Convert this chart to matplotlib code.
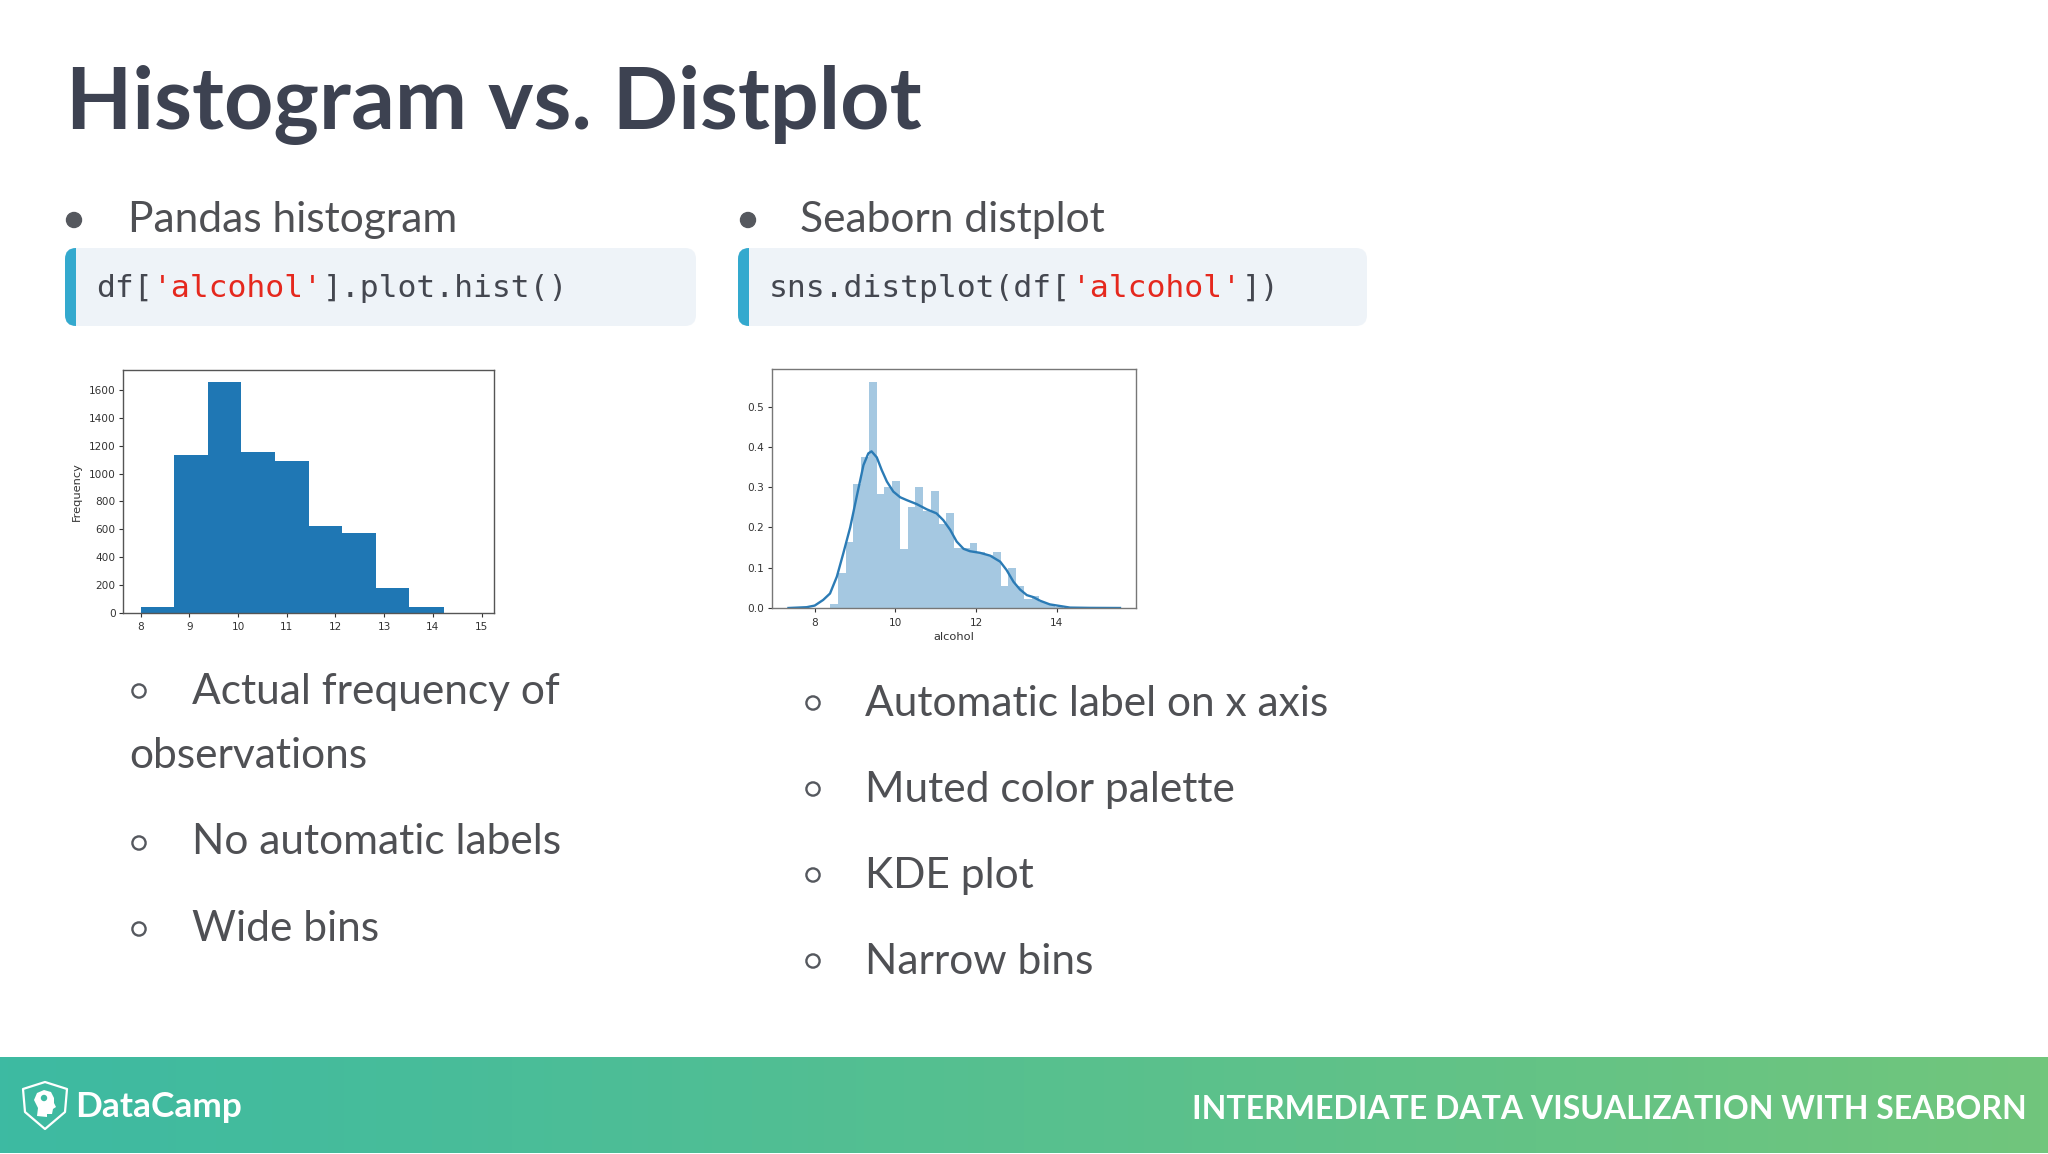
import numpy as np
import matplotlib
matplotlib.use("Agg")
import matplotlib.pyplot as plt
from matplotlib.patches import FancyBboxPatch, Rectangle, Circle, Polygon
from matplotlib.colors import LinearSegmentedColormap

W, H = 2048, 1154

# ---- data ----
hist_edges = [8.0, 8.684, 9.39, 10.07, 10.75, 11.455, 12.14, 12.84, 13.52, 14.22, 14.9]
hist_counts = [40, 1130, 1660, 1155, 1090, 625, 570, 178, 40, 1]
hist_yticks = [0, 200, 400, 600, 800, 1000, 1200, 1400, 1600]
hist_xticks = [8, 9, 10, 11, 12, 13, 14, 15]

dist_bin_start = 8.38
dist_bin_width = 0.1923
dist_density = [0.010, 0.086, 0.165, 0.307, 0.374, 0.562, 0.283, 0.301, 0.316, 0.146,
                0.252, 0.301, 0.241, 0.290, 0.209, 0.235, 0.148, 0.148, 0.161, 0.140,
                0.132, 0.139, 0.055, 0.099, 0.055, 0.022, 0.030, 0.016, 0.009, 0.003]
kde_x = [7.35, 7.8, 8.0, 8.21, 8.38, 8.55, 8.71, 8.88, 9.04, 9.21, 9.33, 9.41, 9.54, 9.66,
         9.79, 9.95, 10.12, 10.28, 10.53, 10.78, 11.02, 11.19, 11.36, 11.52, 11.69, 11.85,
         12.1, 12.35, 12.6, 12.76, 12.93, 13.09, 13.26, 13.42, 13.59, 13.83, 14.08, 14.33,
         14.83, 15.57]
kde_y = [0.0, 0.002, 0.006, 0.02, 0.036, 0.078, 0.136, 0.2, 0.276, 0.355, 0.384, 0.389, 0.374,
         0.343, 0.314, 0.289, 0.275, 0.268, 0.258, 0.245, 0.235, 0.218, 0.194, 0.165, 0.147,
         0.141, 0.137, 0.13, 0.115, 0.094, 0.065, 0.046, 0.032, 0.027, 0.018, 0.009, 0.005,
         0.001, 0.0003, 0.0]
dist_yticks = [0.0, 0.1, 0.2, 0.3, 0.4, 0.5]
dist_xticks = [8, 10, 12, 14]

title = "Histogram vs. Distplot"
left_head = "Pandas histogram"
right_head = "Seaborn distplot"
left_items = ["No automatic labels", "Wide bins"]
right_items = ["Automatic label on x axis", "Muted color palette", "KDE plot", "Narrow bins"]
footer_text = "INTERMEDIATE DATA VISUALIZATION WITH SEABORN"

TXT = "#4f5054"
DARK = "#3d4251"
BODY = 30.6

fig = plt.figure(figsize=(W / 100, H / 100), dpi=100, facecolor="white")
bg = fig.add_axes([0, 0, 1, 1])
bg.set_xlim(0, W); bg.set_ylim(H, 0); bg.axis("off")

def rect_axes(x0, y0, x1, y1):
    return fig.add_axes([x0 / W, 1 - y1 / H, (x1 - x0) / W, (y1 - y0) / H])

# title
bg.text(66, 129, title, family="Lato", weight="bold", fontsize=62, color=DARK, va="baseline")

# headings
for bx, tx, s in [(74, 128, left_head), (748, 800, right_head)]:
    bg.add_patch(Circle((bx, 220), 7.5, color="#55585e"))
    bg.text(tx, 232, s, family="Lato", fontsize=BODY, color=TXT, va="baseline")

# code blocks
def code_box(x0, x1):
    y0, y1 = 248, 326
    bg.add_patch(FancyBboxPatch((x0, y0), x1 - x0, y1 - y0,
                 boxstyle="round,pad=0,rounding_size=11", fc="#eef3f8", ec="none"))
    clip = Rectangle((x0, y0), 11, y1 - y0, transform=bg.transData)
    st = FancyBboxPatch((x0, y0), 40, y1 - y0, boxstyle="round,pad=0,rounding_size=11",
                        fc="#33a9ce", ec="none")
    bg.add_patch(st)
    st.set_clip_path(clip)

code_box(65, 696)
code_box(738, 1367)

def code(x, parts):
    pitch = 18.9
    for s, c in parts:
        bg.text(x, 297, s, family="DejaVu Sans Mono", fontsize=22.6, color=c, va="baseline")
        x += pitch * len(s)

code(96, [("df[", "#444750"), ("'alcohol'", "#e5281e"), ("].plot.hist()", "#444750")])
code(769, [("sns.distplot(df[", "#444750"), ("'alcohol'", "#e5281e"), ("])", "#444750")])

# sub bullets
def ring(x, y):
    bg.add_patch(Circle((x, y), 6.6, fc="white", ec="#55585e", lw=1.7))

ring(139, 691)
bg.text(192, 704, "Actual frequency of", family="Lato", fontsize=BODY, color=TXT, va="baseline")
bg.text(129, 768, "observations", family="Lato", fontsize=BODY, color=TXT, va="baseline")
for s, ry, by in zip(left_items, [843, 929], [854, 941]):
    ring(139, ry)
    bg.text(192, by, s, family="Lato", fontsize=BODY, color=TXT, va="baseline")
for s, ry, by in zip(right_items, [703, 789, 875, 961], [716, 802, 888, 974]):
    ring(813, ry)
    bg.text(865, by, s, family="Lato", fontsize=BODY, color=TXT, va="baseline")

# footer gradient
cmap = LinearSegmentedColormap.from_list("g", ["#3dbaa2", "#71c67c"])
grad = np.linspace(0, 1, 512).reshape(1, -1)
bg.imshow(grad, extent=(0, W, 1153, 1057), cmap=cmap, aspect="auto", zorder=1)
bg.set_xlim(0, W); bg.set_ylim(H, 0)
bg.text(75, 1117, "DataCamp", family="Lato", weight="bold", fontsize=25.4, color="white",
        va="baseline", zorder=3)
bg.text(2027, 1119, footer_text, family="Lato", weight="bold", fontsize=23, color="white",
        ha="right", va="baseline", zorder=3)

# logo
shield = [(45, 1082), (67, 1089), (65, 1112), (45, 1129), (25, 1112), (23, 1089)]
bg.add_patch(Polygon(shield, closed=True, fc="none", ec="white", lw=1.6, zorder=3, joinstyle="round"))
head = [(37, 1116), (38, 1108), (34, 1100), (37, 1093), (44, 1090), (51, 1092), (54, 1098),
        (54, 1103), (56, 1107), (53, 1109), (52, 1114), (47, 1114), (47, 1117)]
bg.add_patch(Polygon(head, closed=True, fc="white", ec="none", zorder=3))
bg.add_patch(Circle((44, 1098), 3.2, fc="#3dbaa2", ec="none", zorder=4))

# histogram panel
GREY = "#333333"
ax1 = rect_axes(123.3, 370, 494, 612.7)
ax1.bar(hist_edges[:-1], hist_counts, width=np.diff(hist_edges), align="edge", color="#1f77b4")
ax1.set_xlim(7.644, 15.255)
ax1.set_ylim(0, 1744)
ax1.set_xticks(hist_xticks)
ax1.set_yticks(hist_yticks)
ax1.set_ylabel("Frequency", fontsize=8.2, color=GREY, labelpad=5)
ax1.tick_params(labelsize=7.6, length=3, width=0.8, colors=GREY)
ax1.tick_params(axis="x", pad=4)
ax1.tick_params(axis="y", pad=2.5)
for s in ax1.spines.values():
    s.set_color("#555555"); s.set_linewidth(1.0)

# distplot panel
ax2 = rect_axes(771.7, 369, 1136, 608)
lefts = [dist_bin_start + i * dist_bin_width for i in range(len(dist_density))]
ax2.bar(lefts, dist_density, width=dist_bin_width, align="edge", color="#1f77b4", alpha=0.4)
ax2.plot(kde_x, kde_y, color="#2b7bb5", lw=1.7)
ax2.set_xlim(6.934, 15.967)
ax2.set_ylim(0, 0.5935)
ax2.set_xticks(dist_xticks)
ax2.set_yticks(dist_yticks)
ax2.set_xlabel("alcohol", fontsize=8.2, color=GREY, labelpad=3)
ax2.tick_params(labelsize=7.6, length=3, width=0.8, colors=GREY)
ax2.tick_params(axis="x", pad=4)
ax2.tick_params(axis="y", pad=2.5)
for s in ax2.spines.values():
    s.set_color("#777777"); s.set_linewidth(1.0)

fig.savefig("out.png", dpi=100, facecolor="white")
